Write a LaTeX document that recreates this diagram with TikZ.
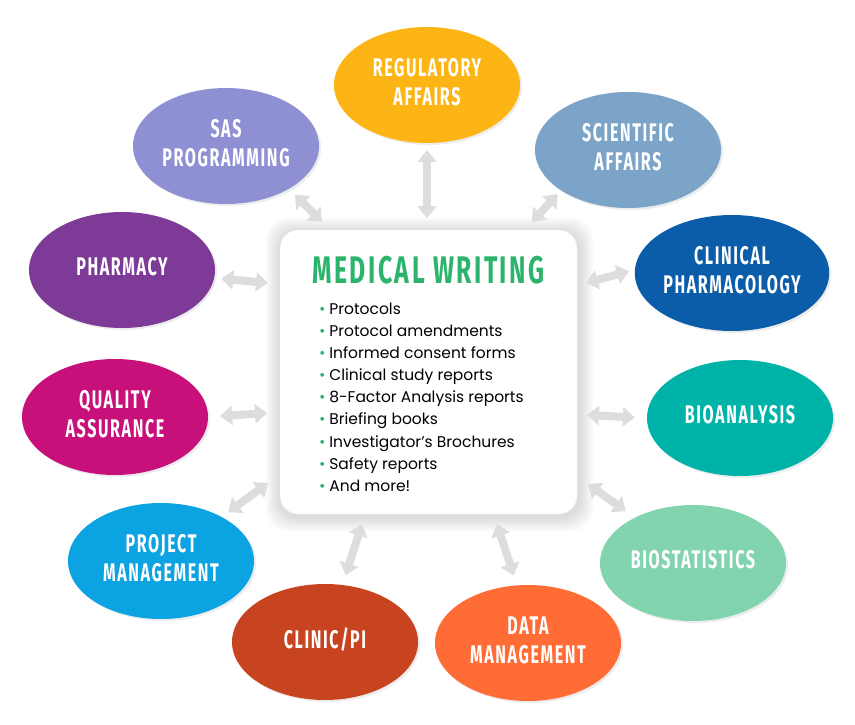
\documentclass[tikz,border=0pt]{standalone}
\usepackage{fontspec}
\usepackage{graphicx}
\setmainfont{Poppins}
\newfontfamily\lblfont{Fira Sans}[LetterSpace=10]
\usetikzlibrary{shapes.geometric,arrows.meta,positioning,shadows,backgrounds}
\definecolor{mwgreen}{RGB}{44,180,108}
\definecolor{linkgray}{RGB}{221,221,221}
\definecolor{regcol}{RGB}{253,181,21}
\definecolor{scicol}{RGB}{124,163,200}
\definecolor{clinphcol}{RGB}{11,93,170}
\definecolor{bioancol}{RGB}{0,179,168}
\definecolor{biostatcol}{RGB}{130,212,174}
\definecolor{datacol}{RGB}{255,108,54}
\definecolor{cliniccol}{RGB}{200,68,32}
\definecolor{projcol}{RGB}{11,163,226}
\definecolor{qacol}{RGB}{200,16,122}
\definecolor{pharmcol}{RGB}{125,58,150}
\definecolor{sascol}{RGB}{143,144,212}
\newcommand{\lbl}[1]{\raisebox{-2pt}{\scalebox{0.63}[1]{\begin{tabular}{@{}c@{}}#1\end{tabular}}}}
\newcommand{\mwitem}[1]{{\color{mwgreen}\textbullet}\hspace{4pt}#1}

\tikzset{
  dept/.style={ellipse, fill=#1, minimum width=186pt, minimum height=116pt,
    inner sep=0pt, text=white, font=\lblfont\bfseries\fontsize{25.5}{29}\selectfont,
    drop shadow={shadow xshift=2pt, shadow yshift=-2pt, opacity=0.15}},
  mwbox/.style={rectangle, rounded corners=18pt, fill=white, draw=black!8,
    minimum width=297pt, minimum height=284pt},
  title/.style={inner sep=0pt, text=mwgreen, font=\lblfont\bfseries\fontsize{37}{40}\selectfont},
  list/.style={align=left, inner sep=0pt, font=\fontsize{15.5}{22.1}\selectfont},
  link/.style={draw=linkgray, line width=8pt,
    arrows={Triangle[width=19pt,length=12pt]-Triangle[width=19pt,length=12pt]}},
}

\begin{document}
\begin{tikzpicture}[x=1pt, y=-1pt]
\useasboundingbox (0,0) rectangle (855,725);

% centre box
\node[mwbox] (mw) at (428.5,372) {};
\node[title, below=26pt of mw.north] (mwtitle) {\scalebox{0.67}[1.04]{MEDICAL WRITING}};
\node[list, below right=73pt and 39pt of mw.north west] (items) {%
  \mwitem{Protocols}\\
  \mwitem{Protocol amendments}\\
  \mwitem{Informed consent forms}\\
  \mwitem{Clinical study reports}\\
  \mwitem{8-Factor Analysis reports}\\
  \mwitem{Briefing books}\\
  \mwitem{Investigator’s Brochures}\\
  \mwitem{Safety reports}\\
  \mwitem{And more!}};

\begin{scope}[on background layer]
  \foreach \g in {2,4,...,14}
    \fill[black, opacity=0.02, rounded corners=22pt]
      ([shift={(-\g,-\g+2)}]mw.north west) rectangle ([shift={(\g+2,\g+3)}]mw.south east);
\end{scope}

% departments
\node[dept=regcol] (reg) at (427,85) {\lbl{REGULATORY\\AFFAIRS}};
\node[dept=scicol] (sci) at (628,150) {\lbl{SCIENTIFIC\\AFFAIRS}};
\node[dept=clinphcol] (clinph) at (732,273) {\lbl{CLINICAL\\PHARMACOLOGY}};
\node[dept=bioancol] (bioan) at (740,418) {\lbl{BIOANALYSIS}};
\node[dept=biostatcol] (biostat) at (693,563) {\lbl{BIOSTATISTICS}};
\node[dept=datacol] (datam) at (528,643) {\lbl{DATA\\MANAGEMENT}};
\node[dept=cliniccol] (clinic) at (325,642) {\lbl{CLINIC/PI}};
\node[dept=projcol] (projm) at (161,561) {\lbl{PROJECT\\MANAGEMENT}};
\node[dept=qacol] (qa) at (115,417) {\lbl{QUALITY\\ASSURANCE}};
\node[dept=pharmcol] (pharm) at (122,270) {\lbl{PHARMACY}};
\node[dept=sascol] (sas) at (226,146) {\lbl{SAS\\PROGRAMMING}};

% arrow ends at the box
\coordinate (mw-reg) at (427,218);
\coordinate (mw-sci) at (532,222);
\coordinate (mw-clinph) at (586,283);
\coordinate (mw-bioan) at (587,415);
\coordinate (mw-biostat) at (588,484);
\coordinate (mw-datam) at (497,524);
\coordinate (mw-clinic) at (362,524);
\coordinate (mw-projm) at (268,483);
\coordinate (mw-qa) at (267,413);
\coordinate (mw-pharm) at (268,283);
\coordinate (mw-sas) at (322,222);

\draw[link, shorten <=7pt] (reg.south) -- (mw-reg);
\draw[link, shorten <=5pt] (sci.-149) -- (mw-sci);
\draw[link, shorten <=6pt] (clinph.178) -- (mw-clinph);
\draw[link, shorten <=12pt] (bioan.west) -- (mw-bioan);
\draw[link, shorten <=11pt] (biostat.142) -- (mw-biostat);
\draw[link, shorten <=10pt] (datam.101) -- (mw-datam);
\draw[link, shorten <=10pt] (clinic.73) -- (mw-clinic);
\draw[link, shorten <=8pt] (projm.36) -- (mw-projm);
\draw[link, shorten <=12pt] (qa.east) -- (mw-qa);
\draw[link, shorten <=7pt] (pharm.-5) -- (mw-pharm);
\draw[link, shorten <=8pt] (sas.-34) -- (mw-sas);
\end{tikzpicture}
\end{document}
